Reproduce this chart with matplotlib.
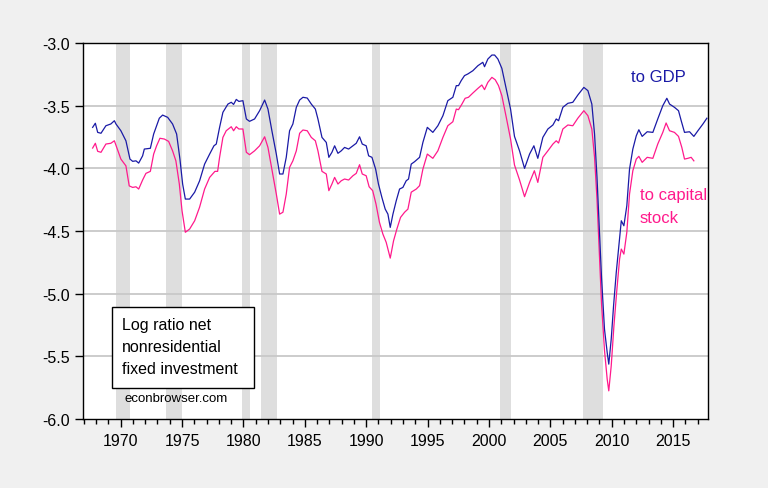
import matplotlib.pyplot as plt
from matplotlib.patches import Rectangle
from matplotlib.ticker import MultipleLocator

plt.rcParams['font.family'] = ['Liberation Sans', 'DejaVu Sans']
plt.rcParams['axes.unicode_minus'] = False

# log ratio net nonresidential fixed investment to GDP
gdp_dates = [1967.72, 1967.94, 1968.13, 1968.40, 1968.80, 1969.20, 1969.49, 1969.62, 1970.02, 1970.43,
             1970.76, 1970.98, 1971.25, 1971.47, 1971.79, 1971.93, 1972.42, 1972.69, 1972.88, 1973.15,
             1973.42, 1973.83, 1974.23, 1974.56, 1974.83, 1975.05, 1975.27, 1975.62, 1976.03, 1976.43,
             1976.84, 1977.25, 1977.60, 1977.79, 1978.06, 1978.33, 1978.74, 1979.01, 1979.20, 1979.42,
             1979.63, 1979.96, 1980.24, 1980.50, 1980.91, 1981.32, 1981.73, 1982.00, 1982.32, 1982.68,
             1982.95, 1983.22, 1983.49, 1983.76, 1984.03, 1984.31, 1984.58, 1984.85, 1985.20, 1985.53,
             1985.86, 1986.07, 1986.40, 1986.75, 1986.96, 1987.21, 1987.43, 1987.70, 1987.97, 1988.24,
             1988.57, 1988.92, 1989.19, 1989.46, 1989.68, 1990.00, 1990.20, 1990.47, 1990.77, 1991.00,
             1991.28, 1991.55, 1991.77, 1991.96, 1992.18, 1992.45, 1992.72, 1992.99, 1993.26, 1993.45,
             1993.67, 1993.94, 1994.35, 1994.62, 1994.98, 1995.43, 1995.84, 1996.25, 1996.65, 1997.06,
             1997.34, 1997.52, 1997.74, 1998.01, 1998.28, 1998.69, 1999.10, 1999.50, 1999.64, 1999.91,
             2000.24, 2000.46, 2000.73, 2001.05, 2001.41, 2001.76, 2002.08, 2002.49, 2002.90, 2003.31,
             2003.66, 2003.98, 2004.39, 2004.80, 2005.21, 2005.48, 2005.67, 2006.02, 2006.43, 2006.83,
             2007.24, 2007.73, 2008.06, 2008.38, 2008.60, 2008.80, 2008.98, 2009.17, 2009.41, 2009.63,
             2009.76, 2009.96, 2010.15, 2010.37, 2010.64, 2010.78, 2010.99, 2011.23, 2011.45, 2011.72,
             2012.00, 2012.21, 2012.48, 2012.89, 2013.35, 2013.75, 2014.16, 2014.49, 2014.71, 2015.11,
             2015.44, 2015.66, 2015.93, 2016.34, 2016.69, 2017.02, 2017.43, 2017.75]
gdp_vals = [-3.673, -3.640, -3.713, -3.720, -3.660, -3.646, -3.620, -3.646, -3.700, -3.780,
            -3.926, -3.944, -3.940, -3.958, -3.900, -3.846, -3.840, -3.726, -3.673, -3.600,
            -3.575, -3.593, -3.646, -3.726, -3.926, -4.125, -4.245, -4.245, -4.190, -4.100,
            -3.966, -3.886, -3.820, -3.806, -3.673, -3.553, -3.487, -3.473, -3.490, -3.450,
            -3.466, -3.460, -3.606, -3.625, -3.606, -3.540, -3.455, -3.527, -3.700, -3.886,
            -4.045, -4.045, -3.912, -3.700, -3.646, -3.513, -3.455, -3.433, -3.439, -3.487,
            -3.527, -3.606, -3.753, -3.793, -3.912, -3.872, -3.820, -3.880, -3.860, -3.833,
            -3.846, -3.820, -3.800, -3.748, -3.806, -3.820, -3.900, -3.912, -4.006, -4.125,
            -4.232, -4.325, -4.365, -4.471, -4.365, -4.258, -4.165, -4.152, -4.099, -4.085,
            -3.966, -3.947, -3.912, -3.793, -3.673, -3.713, -3.660, -3.580, -3.460, -3.433,
            -3.340, -3.340, -3.300, -3.260, -3.247, -3.221, -3.181, -3.154, -3.189, -3.128,
            -3.096, -3.096, -3.128, -3.202, -3.367, -3.527, -3.745, -3.860, -4.000, -3.886,
            -3.820, -3.920, -3.753, -3.686, -3.654, -3.606, -3.620, -3.513, -3.481, -3.473,
            -3.415, -3.354, -3.380, -3.487, -3.725, -4.070, -4.450, -4.870, -5.282, -5.468,
            -5.562, -5.362, -5.097, -4.830, -4.564, -4.418, -4.458, -4.298, -4.006, -3.846,
            -3.740, -3.692, -3.745, -3.708, -3.713, -3.606, -3.500, -3.441, -3.487, -3.513,
            -3.540, -3.620, -3.713, -3.708, -3.745, -3.700, -3.646, -3.600]

# log ratio net nonresidential fixed investment to capital stock
cap_dates = [1967.72, 1967.94, 1968.13, 1968.40, 1968.80, 1969.20, 1969.49, 1969.68, 1970.02, 1970.43,
             1970.70, 1970.98, 1971.25, 1971.47, 1971.79, 1972.06, 1972.42, 1972.69, 1972.93, 1973.20,
             1973.56, 1973.91, 1974.23, 1974.50, 1974.78, 1975.00, 1975.27, 1975.62, 1976.03, 1976.43,
             1976.84, 1977.25, 1977.68, 1977.90, 1978.06, 1978.33, 1978.60, 1979.01, 1979.20, 1979.42,
             1979.63, 1979.96, 1980.24, 1980.50, 1980.91, 1981.32, 1981.73, 1982.00, 1982.32, 1982.68,
             1982.95, 1983.22, 1983.49, 1983.76, 1984.03, 1984.31, 1984.58, 1984.85, 1985.20, 1985.53,
             1985.86, 1986.07, 1986.40, 1986.75, 1986.96, 1987.21, 1987.43, 1987.70, 1987.97, 1988.24,
             1988.57, 1988.92, 1989.19, 1989.46, 1989.68, 1990.00, 1990.24, 1990.53, 1990.80, 1991.08,
             1991.36, 1991.63, 1991.96, 1992.23, 1992.50, 1992.80, 1993.13, 1993.40, 1993.67, 1994.08,
             1994.35, 1994.62, 1994.98, 1995.43, 1995.84, 1996.25, 1996.65, 1997.06, 1997.34, 1997.52,
             1997.80, 1998.06, 1998.33, 1998.69, 1999.10, 1999.42, 1999.64, 1999.91, 2000.24, 2000.51,
             2000.78, 2001.05, 2001.41, 2001.76, 2002.08, 2002.49, 2002.90, 2003.31, 2003.70, 2003.98,
             2004.39, 2004.80, 2005.21, 2005.48, 2005.67, 2006.02, 2006.43, 2006.83, 2007.24, 2007.73,
             2008.06, 2008.38, 2008.60, 2008.80, 2008.98, 2009.17, 2009.41, 2009.63, 2009.76, 2009.96,
             2010.18, 2010.40, 2010.64, 2010.78, 2010.99, 2011.23, 2011.45, 2011.72, 2012.00, 2012.21,
             2012.48, 2012.89, 2013.35, 2013.75, 2014.16, 2014.43, 2014.71, 2015.11, 2015.44, 2015.71,
             2015.93, 2016.20, 2016.47, 2016.69]
cap_vals = [-3.838, -3.800, -3.864, -3.872, -3.806, -3.800, -3.780, -3.833, -3.926, -3.980,
            -4.140, -4.152, -4.147, -4.165, -4.093, -4.040, -4.024, -3.886, -3.820, -3.760,
            -3.766, -3.785, -3.860, -3.940, -4.125, -4.338, -4.510, -4.484, -4.418, -4.310,
            -4.165, -4.072, -4.024, -4.024, -3.912, -3.753, -3.700, -3.668, -3.700, -3.668,
            -3.686, -3.686, -3.872, -3.891, -3.860, -3.820, -3.748, -3.833, -4.006, -4.205,
            -4.365, -4.350, -4.205, -3.992, -3.940, -3.860, -3.720, -3.694, -3.700, -3.753,
            -3.780, -3.860, -4.024, -4.045, -4.178, -4.125, -4.072, -4.125, -4.099, -4.085,
            -4.093, -4.059, -4.040, -3.971, -4.045, -4.059, -4.147, -4.178, -4.285, -4.430,
            -4.524, -4.590, -4.716, -4.578, -4.484, -4.391, -4.350, -4.325, -4.190, -4.165,
            -4.138, -4.006, -3.886, -3.920, -3.860, -3.753, -3.660, -3.628, -3.527, -3.532,
            -3.487, -3.441, -3.433, -3.399, -3.362, -3.335, -3.372, -3.314, -3.274, -3.293,
            -3.340, -3.420, -3.593, -3.766, -3.973, -4.092, -4.226, -4.112, -4.019, -4.112,
            -3.912, -3.860, -3.806, -3.780, -3.798, -3.686, -3.654, -3.660, -3.600, -3.540,
            -3.580, -3.686, -3.910, -4.245, -4.650, -5.080, -5.450, -5.681, -5.775, -5.575,
            -5.256, -4.990, -4.724, -4.644, -4.684, -4.510, -4.205, -4.019, -3.926, -3.904,
            -3.952, -3.912, -3.920, -3.806, -3.713, -3.638, -3.700, -3.713, -3.745, -3.833,
            -3.926, -3.920, -3.912, -3.940]

# NBER recessions as drawn
rec_start = [1969.65, 1973.72, 1979.91, 1981.40, 1990.47, 2000.94, 2007.70]
rec_end = [1970.79, 1975.02, 1980.50, 1982.76, 1991.09, 2001.82, 2009.28]

y_ticks = [-6.0, -5.5, -5.0, -4.5, -4.0, -3.5, -3.0]
x_ticks = [1970, 1975, 1980, 1985, 1990, 1995, 2000, 2005, 2010, 2015]

BLUE = '#1a1aa6'
PINK = '#ff1a8c'


def plotChart():
    fig = plt.figure(figsize=(7.68, 4.89), dpi=100, facecolor='#f0f0f0')
    ax = fig.add_axes([0.108, 0.141, 0.814, 0.769])
    ax.set_facecolor('white')

    for s, e in zip(rec_start, rec_end):
        ax.axvspan(s, e, color='#dedede', lw=0, zorder=0)
    for yv in y_ticks[1:-1]:
        ax.axhline(yv, color='#c8c8c8', lw=1.3, zorder=1)

    ax.plot(gdp_dates, gdp_vals, color=BLUE, lw=0.9, zorder=3)
    ax.plot(cap_dates, cap_vals, color=PINK, lw=0.9, zorder=2)

    ax.set_xlim(1966.93, 2017.85)
    ax.set_ylim(-6.0, -3.0)
    ax.set_yticks(y_ticks)
    ax.set_yticklabels(['%.1f' % v for v in y_ticks])
    ax.set_xticks(x_ticks)
    ax.xaxis.set_minor_locator(MultipleLocator(1))
    ax.tick_params(axis='both', which='major', labelsize=11.5, direction='out', length=6, width=1)
    ax.tick_params(axis='x', which='minor', direction='out', length=3.5, width=1)
    ax.tick_params(axis='x', pad=4)
    for sp in ax.spines.values():
        sp.set_linewidth(1)

    ax.text(0.877, 0.912, 'to GDP', color=BLUE, fontsize=12, transform=ax.transAxes, va='center')
    ax.text(0.8907, 0.598, 'to capital', color=PINK, fontsize=12, transform=ax.transAxes, va='center')
    ax.text(0.8907, 0.537, 'stock', color=PINK, fontsize=12, transform=ax.transAxes, va='center')

    ax.add_patch(Rectangle((0.046, 0.082), 0.228, 0.216, transform=ax.transAxes,
                           fc='white', ec='black', lw=1, zorder=5))
    for i, line in enumerate(['Log ratio net', 'nonresidential', 'fixed investment']):
        ax.text(0.062, 0.252 - i * 0.059, line, fontsize=11.5, transform=ax.transAxes,
                va='center', zorder=6)
    ax.text(0.067, 0.056, 'econbrowser.com', fontsize=9.5, transform=ax.transAxes,
            va='center', zorder=6)

    fig.savefig('out.png', dpi=100, facecolor=fig.get_facecolor())


plotChart()
